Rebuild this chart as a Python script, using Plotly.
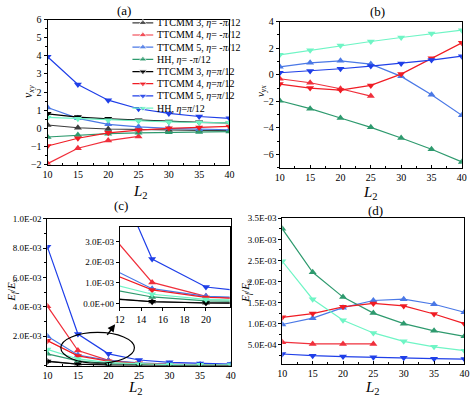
import plotly.graph_objects as go

W, H = 474, 402

L2 = [10, 15, 20, 25, 30, 35, 40]
L2_short = [10, 15, 20, 25]

names = [
    "TTCMM 3, <i>η</i>= -<i>π</i>/12",
    "TTCMM 4, <i>η</i>= -<i>π</i>/12",
    "TTCMM 5, <i>η</i>= -<i>π</i>/12",
    "HH, <i>η</i>= -<i>π</i>/12",
    "TTCMM 3, <i>η</i>=<i>π</i>/12",
    "TTCMM 4, <i>η</i>=<i>π</i>/12",
    "TTCMM 5, <i>η</i>=<i>π</i>/12",
    "HH, <i>η</i>=<i>π</i>/12",
]
colors = ["#3c3c3c", "#f0303c", "#4a78e6", "#2e9a6e",
          "#000000", "#f01c24", "#1f3fe8", "#6ff5c5"]
symbols = ["triangle-up"] * 4 + ["triangle-down"] * 4
xs = [L2, L2_short, L2, L2, L2, L2, L2, L2]

# (a) nu_xy
nu_xy = [
    [0.18, 0.03, -0.04, -0.08, -0.10, -0.12, -0.13],
    [-1.95, -1.10, -0.68, -0.45],
    [1.15, 0.55, 0.22, 0.08, 0.00, -0.05, -0.08],
    [-0.48, -0.37, -0.30, -0.25, -0.22, -0.20, -0.18],
    [0.80, 0.62, 0.52, 0.45, 0.38, 0.33, 0.30],
    [-0.98, -0.55, -0.25, -0.10, 0.00, 0.05, 0.10],
    [3.95, 2.42, 1.55, 1.08, 0.82, 0.65, 0.55],
    [0.60, 0.53, 0.45, 0.40, 0.35, 0.32, 0.30],
]
# (b) nu_yx (no TTCMM 3 data)
nu_yx = [
    None,
    [-0.30, -0.60, -1.05, -1.60],
    [0.60, 0.90, 1.05, 0.80, -0.12, -1.50, -3.05],
    [-1.95, -2.55, -3.25, -3.95, -4.75, -5.60, -6.55],
    None,
    [-0.70, -1.00, -1.15, -0.80, 0.05, 1.25, 2.40],
    [0.15, 0.28, 0.45, 0.65, 0.85, 1.10, 1.40],
    [1.50, 1.85, 2.20, 2.50, 2.80, 3.10, 3.35],
]
# (c) Ef/Es
ef_c = [
    [0.30e-3, 0.10e-3, 0.04e-3, 0.02e-3, 0.015e-3, 0.01e-3, 0.01e-3],
    [4.05e-3, 1.02e-3, 0.35e-3, 0.15e-3],
    [2.00e-3, 0.72e-3, 0.35e-3, 0.18e-3, 0.10e-3, 0.07e-3, 0.05e-3],
    [0.80e-3, 0.32e-3, 0.13e-3, 0.07e-3, 0.05e-3, 0.04e-3, 0.03e-3],
    [0.28e-3, 0.09e-3, 0.03e-3, 0.015e-3, 0.01e-3, 0.008e-3, 0.006e-3],
    [1.70e-3, 0.66e-3, 0.30e-3, 0.15e-3, 0.09e-3, 0.06e-3, 0.04e-3],
    [8.10e-3, 2.15e-3, 0.80e-3, 0.38e-3, 0.22e-3, 0.14e-3, 0.10e-3],
    [1.10e-3, 0.45e-3, 0.20e-3, 0.11e-3, 0.07e-3, 0.05e-3, 0.04e-3],
]
# (d) Ef/Es (no TTCMM 3 data)
ef_d = [
    None,
    [0.56e-3, 0.52e-3, 0.52e-3, 0.52e-3],
    [0.98e-3, 1.13e-3, 1.38e-3, 1.55e-3, 1.58e-3, 1.46e-3, 1.27e-3],
    [3.25e-3, 2.22e-3, 1.63e-3, 1.25e-3, 1.00e-3, 0.83e-3, 0.70e-3],
    None,
    [1.15e-3, 1.24e-3, 1.40e-3, 1.48e-3, 1.42e-3, 1.23e-3, 1.00e-3],
    [0.28e-3, 0.24e-3, 0.22e-3, 0.20e-3, 0.19e-3, 0.17e-3, 0.16e-3],
    [2.48e-3, 1.58e-3, 1.08e-3, 0.78e-3, 0.58e-3, 0.45e-3, 0.36e-3],
]

tick_a_y = [-2, -1, 0, 1, 2, 3, 4, 5, 6]
tick_b_y = [-6, -4, -2, 0, 2, 4]
tick_c_y = [2e-3, 4e-3, 6e-3, 8e-3, 1e-2]
tick_c_txt = ["2.0E-03", "4.0E-03", "6.0E-03", "8.0E-03", "1.0E-02"]
tick_in_x = [12, 14, 16, 18, 20]
tick_in_y = [0, 1e-3, 2e-3, 3e-3]
tick_in_txt = ["0.0E+00", "1.0E-03", "2.0E-03", "3.0E-03"]
tick_d_y = [5e-4, 1e-3, 1.5e-3, 2e-3, 2.5e-3, 3e-3, 3.5e-3]
tick_d_txt = ["5.0E-04", "1.0E-03", "1.5E-03", "2.0E-03", "2.5E-03", "3.0E-03", "3.5E-03"]
tick_x = [10, 15, 20, 25, 30, 35, 40]

FONT = "Liberation Serif"


def px(x):
    return x / W


def py(y):
    return 1 - y / H


fig = go.Figure()

panels = [("x", "y", nu_xy), ("x2", "y2", nu_yx), ("x3", "y3", ef_c),
          ("x4", "y4", ef_d), ("x5", "y5", ef_c)]
for xa, ya, data in panels:
    for i in range(8):
        if data[i] is None:
            continue
        fig.add_trace(go.Scatter(
            x=xs[i], y=data[i], xaxis=xa, yaxis=ya, mode="lines+markers",
            line=dict(color=colors[i], width=1.2),
            marker=dict(symbol=symbols[i], color=colors[i], size=7),
            showlegend=False, hoverinfo="skip"))

# manual legend in panel (a)
for i in range(8):
    fig.add_trace(go.Scatter(
        x=[0, 0.5, 1], y=[i, i, i], xaxis="x6", yaxis="y6", mode="lines+markers",
        line=dict(color=colors[i], width=1.2),
        marker=dict(symbol=symbols[i], color=colors[i], size=[0, 7, 0]),
        showlegend=False, hoverinfo="skip", cliponaxis=False))

tickfont = dict(family=FONT, size=10, color="black")
tickfont_s = dict(family=FONT, size=9, color="black")
common = dict(showline=True, linecolor="black", linewidth=1, mirror=True,
              ticks="outside", ticklen=3, tickcolor="black", showgrid=False,
              zeroline=False)

xcommon = dict(common, range=[10, 40], tickvals=tick_x, tickfont=tickfont,
               ticks="inside",
               minor=dict(ticks="inside", ticklen=2, dtick=2.5, tick0=10, tickcolor="black"))

layout = dict(
    width=W, height=H, margin=dict(l=0, r=0, t=0, b=0),
    paper_bgcolor="white", plot_bgcolor="rgba(0,0,0,0)", showlegend=False,
    font=dict(family=FONT, color="black"),
    xaxis=dict(xcommon, domain=[px(43.5), px(229.3)], anchor="y"),
    yaxis=dict(common, domain=[py(164), py(15)], range=[-2, 6], tickvals=tick_a_y,
               tickfont=tickfont, anchor="x",
               minor=dict(ticks="outside", ticklen=2, dtick=0.5, tickcolor="black")),
    xaxis2=dict(xcommon, domain=[px(280.7), px(466.7)], anchor="y2"),
    yaxis2=dict(common, domain=[py(167.5), py(17)], range=[-7, 4], tickvals=tick_b_y,
                tickfont=tickfont, anchor="x2",
                minor=dict(ticks="outside", ticklen=2, dtick=1, tickcolor="black")),
    xaxis3=dict(xcommon, domain=[px(43.3), px(230.5)], anchor="y3"),
    yaxis3=dict(common, domain=[py(370.7), py(220)], range=[0, 0.01], tickvals=tick_c_y,
                ticktext=tick_c_txt, tickfont=tickfont_s, anchor="x3",
                minor=dict(ticks="outside", ticklen=2, dtick=1e-3, tickcolor="black")),
    xaxis4=dict(xcommon, domain=[px(283.3), px(469.3)], anchor="y4"),
    yaxis4=dict(common, domain=[py(369), py(219.3)], range=[4.5e-5, 3.5e-3],
                tickvals=tick_d_y, ticktext=tick_d_txt, tickfont=tickfont_s, anchor="x4",
                minor=dict(ticks="outside", ticklen=2, dtick=2.5e-4, tickcolor="black")),
    xaxis5=dict(common, domain=[px(117.3), px(229.5)], range=[12, 22.2], tickvals=tick_in_x,
                tickfont=tickfont, anchor="y5", ticklen=3),
    yaxis5=dict(common, domain=[py(310), py(228.3)], range=[-0.14e-3, 3.69e-3],
                tickvals=tick_in_y, ticktext=tick_in_txt, tickfont=tickfont_s,
                anchor="x5", ticklen=3),
    xaxis6=dict(domain=[px(130), px(151.7)], range=[0, 1], visible=False, anchor="y6"),
    yaxis6=dict(domain=[py(164), py(15)], range=[11.63, -0.263], visible=False, anchor="x6"),
)
fig.update_layout(**layout)

ann = []
for i in range(8):
    ann.append(dict(text=names[i], x=px(153.3), y=i, xref="paper", yref="y6",
                    xanchor="left", yanchor="middle", showarrow=False,
                    font=dict(family=FONT, size=10, color="black")))

for t, x, y in [("(a)", 122, 6), ("(b)", 381, 7), ("(c)", 118, 206), ("(d)", 378, 211)]:
    ann.append(dict(text=t, x=px(x), y=py(y), xref="paper", yref="paper",
                    showarrow=False, xanchor="center", yanchor="middle",
                    font=dict(family=FONT, size=13, color="black")))

for x, y in [(138, 192), (373, 193), (133, 394), (375, 394)]:
    ann.append(dict(text="<i>L</i><sub>2</sub>", x=px(x), y=py(y), xref="paper",
                    yref="paper", showarrow=False, xanchor="center", yanchor="middle",
                    font=dict(family=FONT, size=15, color="black")))

for t, x, y, s in [("<i>ν</i><sub><i>xy</i></sub>", 24, 89, 12),
                   ("<i>ν</i><sub><i>yx</i></sub>", 261, 88, 11),
                   ("<i>E</i><sub><i>f</i></sub>/<i>E</i><sub><i>s</i></sub>", 7, 293, 11),
                   ("<i>E</i><sub><i>f</i></sub>/<i>E</i><sub><i>s</i></sub>", 246, 294, 11)]:
    ann.append(dict(text=t, x=px(x), y=py(y), xref="paper", yref="paper",
                    showarrow=False, xanchor="center", yanchor="middle", textangle=-90,
                    font=dict(family=FONT, size=s, color="black")))

# arrow pointing to inset
ann.append(dict(text="", x=21.09, y=2.81e-3, xref="x3", yref="y3", ax=-9, ay=12,
                showarrow=True, arrowhead=2, arrowsize=1, arrowwidth=1.5,
                arrowcolor="black"))

fig.update_layout(annotations=ann)
fig.add_shape(type="circle", xref="x3", yref="y3", x0=12.2, x1=24.25,
              y0=0.16e-3, y1=2.26e-3, line=dict(color="black", width=1.2))

fig.write_html("out.html")
